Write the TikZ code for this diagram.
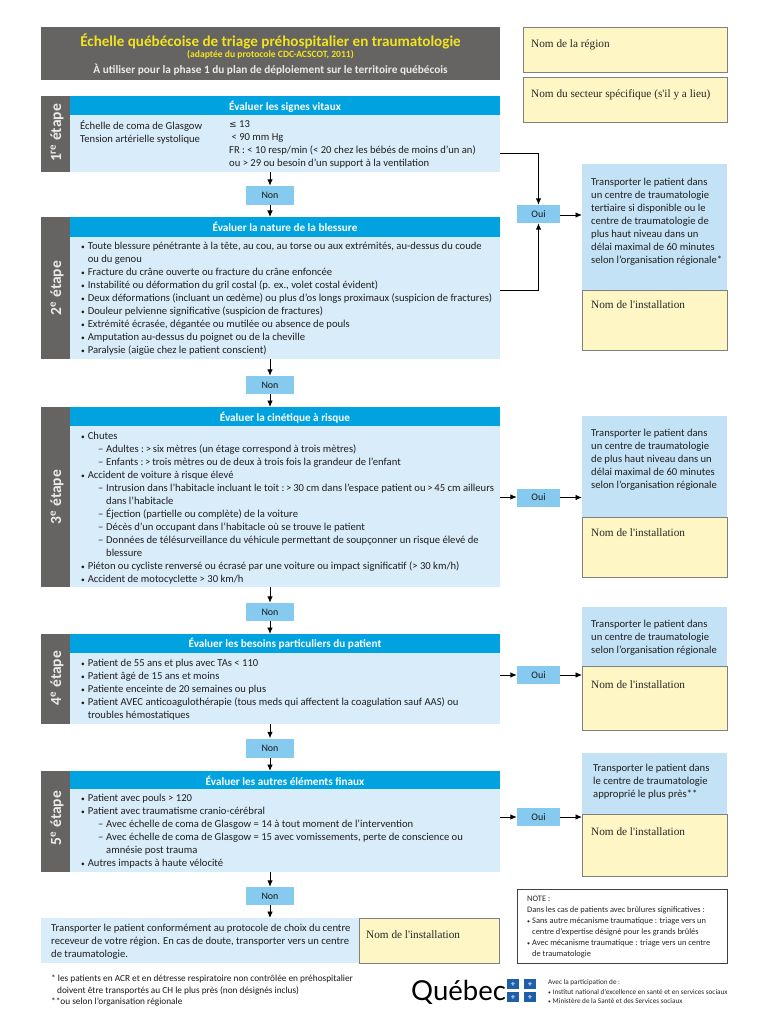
\documentclass[tikz,border=0pt]{standalone}
\usepackage{fontspec}
\setmainfont{Carlito}
\newfontfamily\timesf{Liberation Serif}
\newfontfamily\logof{Lato}
\newfontfamily\symf{DejaVu Sans}
\definecolor{grayb}{HTML}{656463}
\definecolor{blueh}{HTML}{00A3DF}
\definecolor{bluel}{HTML}{D9ECFA}
\definecolor{bluen}{HTML}{86CBEF}
\definecolor{bluer}{HTML}{C3E2F6}
\definecolor{yel}{HTML}{FEF6C4}
\definecolor{yelt}{HTML}{F2E41E}
\definecolor{fleur}{HTML}{1F5FA8}
\usetikzlibrary{arrows.meta}
\tikzset{
 decis/.style={fill=bluen,draw=none,inner sep=0pt,font=\fontsize{10}{11}\selectfont,text=black!90},
 etape/.style={rotate=90,text=white!92!black,font=\fontsize{15.5}{17}\selectfont\bfseries},
 hdtxt/.style={text=white,font=\fontsize{11.2}{13}\selectfont\bfseries},
 txt/.style={anchor=north west,inner sep=0pt,align=left,text=black!88,font=\fontsize{10.62}{13}\selectfont},
 yelbox/.style={fill=yel,draw=black!50,line width=1.1pt},
 yeltxt/.style={anchor=north west,inner sep=0pt,text=black!85,font=\timesf\fontsize{11.25}{13}\selectfont},
 arr/.style={draw=black,line width=0.95pt,-{Latex[length=6.5pt,width=5.5pt]}},
}
\newcommand{\blt}{\makebox[6.6pt][l]{\fontsize{7.5}{7.5}\selectfont\textbullet}}
\newcommand{\sbl}{\hspace*{17pt}\makebox[8pt][l]{–}}
\newcommand{\cnt}{\hspace*{6.6pt}}
\newcommand{\cntb}{\hspace*{25pt}}
\newcommand{\lin}[3]{\node[txt] at (#1,#2) {#3};}
\begin{document}
\begin{tikzpicture}[x=1pt,y=-1pt]
\useasboundingbox (0,0) rectangle (768,1024);
\fill[white] (0,0) rectangle (768,1024);
% title
\fill[grayb] (41,27) rectangle (500,80);
\node[text=yelt,font=\fontsize{15.1}{17}\selectfont\bfseries] (titre) at (270.5,41) {Échelle québécoise de triage préhospitalier en traumatologie};
\node[text=yelt,font=\fontsize{9.6}{11}\selectfont\bfseries] (sous) at (270.5,54.5) {(adaptée du protocole CDC-ACSCOT, 2011)};
\node[text=white!92!black,font=\fontsize{11.3}{13}\selectfont\bfseries] (usage) at (270.5,69.5) {À utiliser pour la phase 1 du plan de déploiement sur le territoire québécois};
% top yellow
\node[yelbox,minimum width=204pt,minimum height=45pt,anchor=north west] (region) at (523,27) {};
\node[yeltxt] at (531,39) {Nom de la région};
\node[yelbox,minimum width=204pt,minimum height=45pt,anchor=north west] (secteur) at (523,77) {};
\node[yeltxt] at (531,89) {Nom du secteur spécifique (s'il y a lieu)};
% step 1
\fill[grayb] (41,96) rectangle (70,172);
\fill[bluel] (70,115) rectangle (500,172);
\fill[blueh] (70,96) rectangle (500,115);
\node[etape] at (57,133) {1\textsuperscript{re} étape};
\node[hdtxt] at (285,106.5) {Évaluer les signes vitaux};
\coordinate (e1) at (500,153);
\coordinate (e1b) at (270,172);
\lin{80}{120.5}{Échelle de coma de Glasgow\\Tension artérielle systolique}
\lin{229}{120.5}{{\symf\fontsize{9}{13}\selectfont ≤} 13\\\ < 90 mm Hg\\FR : < 10 resp/min (< 20 chez les bébés de moins d’un an)\\ou > 29 ou besoin d’un support à la ventilation}
\node[decis,minimum width=48pt,minimum height=19pt] (n1) at (270,195.5) {Non};
% step 2
\fill[grayb] (41,217) rectangle (70,359);
\fill[bluel] (70,237) rectangle (500,359);
\fill[blueh] (70,217) rectangle (500,237);
\node[etape] at (57,288) {2\textsuperscript{e} étape};
\node[hdtxt] at (285,227) {Évaluer la nature de la blessure};
\coordinate (e2) at (500,290);
\coordinate (e2t) at (270,217);
\coordinate (e2b) at (270,359);
\lin{81}{242}{\blt Toute blessure pénétrante à la tête, au cou, au torse ou aux extrémités, au-dessus du coude\\\cnt ou du genou\\\blt Fracture du crâne ouverte ou fracture du crâne enfoncée\\\blt Instabilité ou déformation du gril costal (p. ex., volet costal évident)\\\blt Deux déformations (incluant un œdème) ou plus d’os longs proximaux (suspicion de fractures)\\\blt Douleur pelvienne significative (suspicion de fractures)\\\blt Extrémité écrasée, dégantée ou mutilée ou absence de pouls\\\blt Amputation au-dessus du poignet ou de la cheville\\\blt Paralysie (aigüe chez le patient conscient)}
\node[decis,minimum width=48pt,minimum height=18pt] (n2) at (270,385) {Non};
% step 3
\fill[grayb] (41,407) rectangle (70,587);
\fill[bluel] (70,426) rectangle (500,587);
\fill[blueh] (70,407) rectangle (500,426);
\node[etape] at (57,497) {3\textsuperscript{e} étape};
\node[hdtxt] at (285,417.5) {Évaluer la cinétique à risque};
\coordinate (e3) at (500,497);
\coordinate (e3t) at (270,407);
\coordinate (e3b) at (270,587);
\lin{81}{431.5}{\blt Chutes\\\sbl Adultes :\,>\,six mètres (un étage correspond à trois mètres)\\\sbl Enfants :\,>\,trois mètres ou de deux à trois fois la grandeur de l’enfant\\\blt Accident de voiture à risque élevé\\\sbl Intrusion dans l’habitacle incluant le toit :\,>\,30 cm dans l’espace patient ou\,>\,45 cm ailleurs\\\cntb dans l’habitacle\\\sbl Éjection (partielle ou complète) de la voiture\\\sbl Décès d’un occupant dans l’habitacle où se trouve le patient\\\sbl Données de télésurveillance du véhicule permettant de soupçonner un risque élevé de\\\cntb blessure\\\blt Piéton ou cycliste renversé ou écrasé par une voiture ou impact significatif (> 30 km/h)\\\blt Accident de motocyclette > 30 km/h}
\node[decis,minimum width=48pt,minimum height=18pt] (n3) at (270,612) {Non};
% step 4
\fill[grayb] (41,634) rectangle (70,724);
\fill[bluel] (70,653) rectangle (500,724);
\fill[blueh] (70,634) rectangle (500,653);
\node[etape] at (57,678) {4\textsuperscript{e} étape};
\node[hdtxt] at (285,644) {Évaluer les besoins particuliers du patient};
\coordinate (e4) at (500,675);
\coordinate (e4t) at (270,634);
\coordinate (e4b) at (270,724);
\lin{81}{658.5}{\blt Patient de 55 ans et plus avec TAs < 110\\\blt Patient âgé de 15 ans et moins\\\blt Patiente enceinte de 20 semaines ou plus\\\blt Patient AVEC anticoagulothérapie (tous meds qui affectent la coagulation sauf AAS) ou\\\cnt troubles hémostatiques}
\node[decis,minimum width=48pt,minimum height=19pt] (n4) at (270,748) {Non};
% step 5
\fill[grayb] (41,771) rectangle (70,872);
\fill[bluel] (70,789) rectangle (500,872);
\fill[blueh] (70,771) rectangle (500,789);
\node[etape] at (57,818) {5\textsuperscript{e} étape};
\node[hdtxt] at (285,780.5) {Évaluer les autres éléments finaux};
\coordinate (e5) at (500,817);
\coordinate (e5t) at (270,771);
\coordinate (e5b) at (270,872);
\lin{81}{794}{\blt Patient avec pouls > 120\\\blt Patient avec traumatisme cranio-cérébral\\\sbl Avec échelle de coma de Glasgow = 14 à tout moment de l’intervention\\\sbl Avec échelle de coma de Glasgow = 15 avec vomissements, perte de conscience ou\\\cntb amnésie post trauma\\\blt Autres impacts à haute vélocité}
\node[decis,minimum width=48pt,minimum height=18pt] (n5) at (270,896) {Non};
% final
\fill[bluel] (41,918) rectangle (359,963);
\coordinate (ft) at (270,918);
\node[txt,font=\fontsize{10.62}{13.4}\selectfont] at (51,923.5) {Transporter le patient conformément au protocole de choix du centre\\receveur de votre région. En cas de doute, transporter vers un centre\\de traumatologie.};
\node[yelbox,minimum width=140pt,minimum height=45pt,anchor=north west] (fy) at (359,918) {};
\node[yeltxt] at (366,930) {Nom de l'installation};
% right boxes
\fill[bluer] (582,164) rectangle (727,290);
\lin{591}{178}{Transporter le patient dans\\un centre de traumatologie\\tertiaire si disponible ou le\\centre de traumatologie de\\plus haut niveau dans un\\délai maximal de 60 minutes\\selon l’organisation régionale*}
\node[yelbox,minimum width=145pt,minimum height=60pt,anchor=north west] (y1) at (582,290) {};
\node[yeltxt] at (591,300) {Nom de l'installation};
\fill[bluer] (582,416) rectangle (727,517);
\lin{591}{429}{Transporter le patient dans\\un centre de traumatologie\\de plus haut niveau dans un\\délai maximal de 60 minutes\\selon l’organisation régionale}
\node[yelbox,minimum width=145pt,minimum height=60pt,anchor=north west] (y2) at (582,517) {};
\node[yeltxt] at (591,528) {Nom de l'installation};
\fill[bluer] (582,607) rectangle (727,666);
\lin{591}{620}{Transporter le patient dans\\un centre de traumatologie\\selon l’organisation régionale}
\node[yelbox,minimum width=145pt,minimum height=64pt,anchor=north west] (y3) at (582,666) {};
\node[yeltxt] at (591,680) {Nom de l'installation};
\fill[bluer] (582,753) rectangle (727,814);
\lin{593}{764}{Transporter le patient dans\\le centre de traumatologie\\approprié le plus près**}
\node[yelbox,minimum width=145pt,minimum height=62pt,anchor=north west] (y4) at (582,814) {};
\node[yeltxt] at (591,827) {Nom de l'installation};
% right-box arrow ends
\coordinate (r1) at (582,215);
\coordinate (r2) at (582,497.5);
\coordinate (r3) at (582,675);
\coordinate (r4) at (582,817);
% oui
\node[decis,minimum width=43pt,minimum height=18pt] (o1) at (538.5,214) {Oui};
\node[decis,minimum width=43pt,minimum height=18pt] (o2) at (538.5,497.5) {Oui};
\node[decis,minimum width=43pt,minimum height=18pt] (o3) at (538.5,675) {Oui};
\node[decis,minimum width=43pt,minimum height=18pt] (o4) at (538.5,817) {Oui};
% connectors
\draw[arr] (e1b) -- (n1);
\draw[arr] (n1) -- (e2t);
\draw[arr] (e2b) -- (n2);
\draw[arr] (n2) -- (e3t);
\draw[arr] (e3b) -- (n3);
\draw[arr] (n3) -- (e4t);
\draw[arr] (e4b) -- (n4);
\draw[arr] (n4) -- (e5t);
\draw[arr] (e5b) -- (n5);
\draw[arr] (n5) -- (ft);
\draw[arr] (e1) -| (o1);
\draw[arr] (e2) -| (o1);
\draw[arr] (o1.east |- r1) -- (r1);
\draw[arr] (e3) -- (e3 -| o2.west);
\draw[arr] (o2.east |- r2) -- (r2);
\draw[arr] (e4) -- (e4 -| o3.west);
\draw[arr] (o3) -- (r3);
\draw[arr] (e5) -- (e5 -| o4.west);
\draw[arr] (o4) -- (r4);
% note
\node[draw=black!75,line width=1.1pt,fill=white,minimum width=210pt,minimum height=74pt,anchor=north west] (note) at (517,889) {};
\node[anchor=north west,inner sep=0pt,align=left,text=black!85,font=\fontsize{8.4}{10.9}\selectfont] at (527,896) {NOTE :\\Dans les cas de patients avec brûlures significatives :\\\makebox[5pt][l]{\fontsize{6}{6}\selectfont\textbullet}Sans autre mécanisme traumatique : triage vers un\\\hspace*{5pt}centre d’expertise désigné pour les grands brûlés\\\makebox[5pt][l]{\fontsize{6}{6}\selectfont\textbullet}Avec mécanisme traumatique : triage vers un centre\\\hspace*{5pt}de traumatologie};
% footnotes
\node[anchor=north west,inner sep=0pt,align=left,text=black!90,font=\fontsize{9.3}{11.2}\selectfont] at (51,975) {* les patients en ACR et en détresse respiratoire non contrôlée en préhospitalier\\\hspace*{6pt}doivent être transportés au CH le plus près (non désignés inclus)\\**ou selon l’organisation régionale};
% logo
\node[anchor=base west,inner sep=0pt,font=\logof\fontsize{27.5}{28}\selectfont,text=black] (qc) at (411,1000.5) {Québec};
\foreach \x/\y in {513/984,530/984,513/997,530/997}{
 \fill[fleur] (\x-6,\y-5) rectangle (\x+6,\y+5);
 \node[text=white,inner sep=0pt,font=\symf\fontsize{6}{6}\selectfont] at (\x,\y) {⚜};
}
\node[anchor=north west,inner sep=0pt,align=left,text=black!85,font=\fontsize{7.2}{9.5}\selectfont] at (548,979.5) {Avec la participation de :\\\makebox[4.5pt][l]{\fontsize{5.5}{5.5}\selectfont\textbullet}Institut national d’excellence en santé et en services sociaux\\\makebox[4.5pt][l]{\fontsize{5.5}{5.5}\selectfont\textbullet}Ministère de la Santé et des Services sociaux};
\end{tikzpicture}
\end{document}
